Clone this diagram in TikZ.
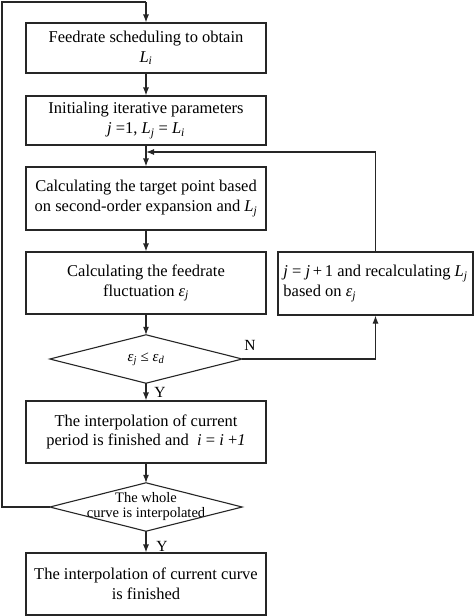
\documentclass[tikz,border=0pt]{standalone}
\usepackage{fontspec}
\setmainfont{Liberation Serif}
\usetikzlibrary{arrows.meta}
\newcommand{\vi}[1]{\textit{#1}}
\newcommand{\sbi}[1]{\textsubscript{\textit{#1}}}
\begin{document}
\begin{tikzpicture}[x=1pt,y=-1pt,
  ln/.style={line width=1.1pt, draw=black!85},
  arr/.style={ln, -{Latex[length=8pt,width=6pt]}},
  box/.style={draw=black!85, line width=1.1pt, minimum width=240pt, align=center, inner sep=2pt, font=\fontsize{16.5}{19.5}\selectfont},
  dia/.style={minimum width=192pt, minimum height=48pt, inner sep=0pt, align=center},
  lab/.style={font=\fontsize{15.5}{17}\selectfont}]
\useasboundingbox (0,0) rectangle (474,616);
\node[box, minimum height=50pt] (b1) at (146,48) {Feedrate scheduling to obtain\\ \vi{L}\sbi{i}};
\node[box, minimum height=49pt] (b2) at (146,120.5) {Initialing iterative parameters\\ \vi{j} =1, \vi{L}\sbi{j} = \vi{L}\sbi{i}};
\node[box, minimum height=63pt] (b3) at (146,198.5) {Calculating the target point based\\ on second-order expansion and \vi{L}\sbi{j}};
\node[box, minimum height=62pt] (b4) at (146,283) {Calculating the feedrate\\ fluctuation \vi{ε}\sbi{j}};
\node[box, minimum height=63pt, minimum width=195pt, align=left] (rb) at (375.5,283.5) {\vi{j} = \vi{j}\,+\,1 and recalculating \vi{L}\sbi{j}\\ based on \vi{ε}\sbi{j}};
\node[dia, font=\fontsize{15}{17}\selectfont] (d1) at (146,359) {\vi{ε}\sbi{j} ≤ \vi{ε}\sbi{d}};
\draw[ln] (d1.west) -- (d1.north) -- (d1.east) -- (d1.south) -- cycle;
\node[box, minimum height=62pt] (b5) at (146,432) {The interpolation of current\\ period is finished and \ \vi{i} = \vi{i} +\vi{1}};
\node[dia, font=\fontsize{14.5}{15}\selectfont] (d2) at (146,507) {The whole\\ curve is interpolated};
\draw[ln] (d2.west) -- (d2.north) -- (d2.east) -- (d2.south) -- cycle;
\node[box, minimum height=62pt] (b6) at (146,584) {The interpolation of current curve\\ is finished};
\coordinate (join) at (146,152);
\coordinate (lb) at (2,507);
\coordinate (lt) at (2,2);
\coordinate (top) at (146,2);
\draw[arr] (top) -- (b1.north);
\draw[arr] (b1) -- (b2);
\draw[arr] (b2) -- (b3);
\draw[arr] (b3) -- (b4);
\draw[arr] (b4) -- (d1.north);
\draw[arr] (d1.south) -- (b5);
\draw[arr] (b5) -- (d2.north);
\draw[arr] (d2.south) -- (b6);
\draw[arr] (d1.east) -| (rb.south);
\draw[arr] (rb.north) |- (join);
\draw[ln] (d2.west) -- (lb) -- (lt) -- (top);
\node[lab] (n) at (250,345) {N};
\node[lab] (y1) at (160,392) {Y};
\node[lab] (y2) at (162,546) {Y};
\end{tikzpicture}
\end{document}
